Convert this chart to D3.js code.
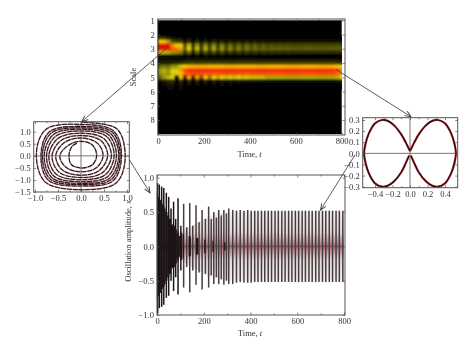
<!DOCTYPE html>
<html>
<head>
<meta charset="utf-8">
<style>
  html, body { margin: 0; background: #fff; }
  svg { display: block; filter: blur(0.35px); }
  text { font-family: "Liberation Serif", serif; fill: #333; }
</style>
<script src="https://cdn.jsdelivr.net/npm/d3@7/dist/d3.min.js"></script>
</head>
<body>
<script>
// Scalogram, values: one profile per band, one amplitude per time column
const heatScales = [1, 1.25, 1.5, 1.75, 2, 2.25, 2.5, 2.75, 3, 3.25, 3.5, 3.75, 4, 4.25, 4.5, 4.75, 5, 5.25, 5.5, 5.75, 6, 6.25, 6.5, 6.75, 7, 7.25, 7.5, 7.75, 8, 8.25, 8.5, 8.75];
const heatTimes = [0, 18, 36, 54, 72, 90, 108, 126, 144, 162, 180, 198, 216, 234, 252, 270, 288, 306, 324, 342, 360, 378, 396, 414, 432, 450, 468, 486, 504, 522, 540, 558, 576, 594, 612, 630, 648, 666, 684, 702, 720, 738, 756, 774, 792];

const upperProfile = [0, 0, 0, 0, 0, 0.05, 0.3, 0.85, 1, 0.55, 0.05, 0.03, 0, 0, 0, 0, 0, 0, 0, 0, 0, 0, 0, 0, 0, 0, 0, 0, 0, 0, 0, 0];
const upperAmp = [1, 1, 0.95, 0.85, 0.8, 0.75, 0.32, 0.62, 0.22, 0.56, 0.22, 0.52, 0.24, 0.5, 0.25, 0.46, 0.26, 0.43, 0.27, 0.41, 0.28, 0.39, 0.29, 0.37, 0.3, 0.35, 0.3, 0.33, 0.31, 0.32, 0.31, 0.32, 0.31, 0.31, 0.31, 0.31, 0.31, 0.31, 0.31, 0.31, 0.31, 0.31, 0.31, 0.31, 0.3];

const onsetProfile = [0, 0, 0, 0, 0, 0.3, 0.6, 1, 0.4, 0, 0, 0, 0, 0, 0, 0, 0, 0, 0, 0, 0, 0, 0, 0, 0, 0, 0, 0, 0, 0, 0, 0];
const onsetAmp = [0.6, 0.6, 0.35, 0.05, 0, 0, 0, 0, 0, 0, 0, 0, 0, 0, 0, 0, 0, 0, 0, 0, 0, 0, 0, 0, 0, 0, 0, 0, 0, 0, 0, 0, 0, 0, 0, 0, 0, 0, 0, 0, 0, 0, 0, 0, 0];

const lowerProfile = [0, 0, 0, 0, 0, 0, 0, 0, 0, 0, 0, 0.05, 0.25, 0.72, 0.95, 0.9, 0.5, 0.06, 0, 0, 0, 0, 0, 0, 0, 0, 0, 0, 0, 0, 0, 0];
const lowerAmp = [0.5, 0.55, 0.5, 0.65, 0.65, 0.8, 0.95, 1, 1, 1, 1, 1, 1, 1, 1, 1, 1, 1, 1, 1, 1, 1, 1, 1, 1, 1, 1, 1, 1, 1, 1, 1, 1, 1, 1, 1, 1, 1, 1, 1, 1, 1, 1, 0.95, 0.85];

const beadProfile = [0, 0, 0, 0, 0, 0, 0, 0, 0, 0, 0, 0, 0, 0, 0, 0, 1, 0.5, 0.25, 0.1, 0, 0, 0, 0, 0, 0, 0, 0, 0, 0, 0, 0];
const beadAmp = [0.1, 0.2, 0.3, 0.3, -0.4, 0.3, -0.4, 0.25, -0.35, 0.25, -0.2, 0.2, -0.1, 0.2, 0, 0.15, 0.05, 0.12, 0.05, 0.1, 0.05, 0.08, 0.05, 0.05, 0.05, 0.05, 0, 0, 0, 0, 0, 0, 0, 0, 0, 0, 0, 0, 0, 0, 0, 0, 0, 0.05, 0.2];

// Oscillation amplitude, tallest excursions
const spikeTimes = [3, 10, 20, 29, 40, 50, 60, 71, 80, 90, 102, 114, 127, 140, 153, 167, 180, 193, 207, 221, 232, 243, 254, 264, 275, 286, 297, 307, 324, 340, 356, 372, 388, 403, 418, 432, 447, 461, 476, 490, 505, 519, 534, 548, 563, 577, 592, 606, 621, 635, 650, 664, 679, 693, 708, 722, 737, 751, 766, 780, 795];
const spikeTop = [0.92, 0.9, 0.87, 0.85, 0.78, 0.72, 0.55, 0.65, 0.4, 0.7, 0.3, 0.62, 0.28, 0.63, 0.3, 0.6, 0.35, 0.53, 0.4, 0.58, 0.4, 0.5, 0.42, 0.53, 0.45, 0.53, 0.48, 0.55, 0.53, 0.52, 0.53, 0.52, 0.53, 0.52, 0.52, 0.52, 0.52, 0.52, 0.52, 0.52, 0.52, 0.52, 0.52, 0.52, 0.52, 0.52, 0.52, 0.52, 0.52, 0.52, 0.52, 0.52, 0.52, 0.52, 0.52, 0.52, 0.52, 0.52, 0.52, 0.52, 0.52];
const spikeBottom = [-0.98, -0.9, -0.88, -0.85, -0.75, -0.72, -0.5, -0.65, -0.45, -0.7, -0.35, -0.6, -0.3, -0.67, -0.35, -0.56, -0.38, -0.63, -0.4, -0.6, -0.42, -0.55, -0.45, -0.55, -0.48, -0.56, -0.5, -0.55, -0.55, -0.53, -0.52, -0.53, -0.53, -0.53, -0.52, -0.52, -0.52, -0.52, -0.52, -0.52, -0.52, -0.52, -0.52, -0.52, -0.52, -0.52, -0.52, -0.52, -0.52, -0.52, -0.52, -0.52, -0.52, -0.52, -0.52, -0.52, -0.52, -0.52, -0.52, -0.52, -0.52];

// Dense start of the same signal, then the dark beads on the zero line
const fastTimes = [2, 6, 10, 14, 18, 22, 26, 30, 34, 38, 42, 46, 50, 54, 58, 62, 66, 70, 74, 78, 82, 86, 90, 94, 98, 104, 112, 138, 142, 170, 174, 205, 240, 290];
const fastAmp = [0.78, 0.72, 0.7, 0.68, 0.65, 0.62, 0.6, 0.58, 0.55, 0.5, 0.5, 0.45, 0.45, 0.4, 0.4, 0.3, 0.32, 0.25, 0.3, 0.22, 0.25, 0.18, 0.22, 0.15, 0.15, 0.2, 0.18, 0.15, 0.14, 0.12, 0.12, 0.1, 0.08, 0.06];

const bandTimes = [0, 100, 150, 200, 250, 300, 400, 800];
const bandOuter = [0, 0.2, 0.3, 0.4, 0.48, 0.5, 0.51, 0.51];

// Phase portrait at the start of the record
const spiralX = [-0.09, -0.2, -0.26, -0.21, 0, 0.24, 0.34, 0.25,
  0, -0.27, -0.46, -0.33, 0, 0.33, 0.48, 0.36,
  0, -0.37, -0.55, -0.41, 0, 0.4, 0.58, 0.44,
  0, -0.44, -0.63, -0.48, 0, 0.47, 0.66, 0.5,
  0, -0.5, -0.7, -0.54, 0, 0.53, 0.72, 0.56,
  0, -0.56, -0.75, -0.59, 0, 0.58, 0.77, 0.6,
  0, -0.6, -0.8, -0.63, 0, 0.62, 0.82, 0.64,
  0, -0.65, -0.84, -0.67, 0, 0.66, 0.85, 0.68,
  0, -0.69, -0.87, -0.71, 0, 0.7, 0.88, 0.71,
  0, -0.76, -0.97, -0.78, 0, 0.76, 0.96, 0.78, 0];
const spiralY = [0.52, 0.38, 0.03, -0.36, -0.5, -0.38, 0, 0.44,
  0.6, 0.44, 0, -0.47, -0.66, -0.5, 0, 0.52,
  0.74, 0.54, 0, -0.58, -0.8, -0.6, 0, 0.62,
  0.84, 0.63, 0, -0.67, -0.9, -0.69, 0, 0.71,
  0.94, 0.72, 0, -0.76, -0.99, -0.78, 0, 0.8,
  1.03, 0.8, 0, -0.84, -1.07, -0.86, 0, 0.87,
  1.1, 0.88, 0, -0.91, -1.14, -0.93, 0, 0.93,
  1.16, 0.94, 0, -0.96, -1.19, -0.98, 0, 0.98,
  1.22, 0.99, 0, -1.01, -1.25, -1.03, 0, 1.03,
  1.3, 1.1, 0.1, -1.08, -1.4, -1.13, -0.1, 1.12, 1.38];

// Phase portrait at the end of the record
const butterflyX = [0, 0.05, 0.1, 0.18, 0.25, 0.32, 0.4, 0.47, 0.51, 0.525, 0.51, 0.47, 0.4, 0.32, 0.25, 0.18, 0.1, 0.05, 0.01];
const butterflyY = [0.02, 0.1, 0.17, 0.25, 0.29, 0.3, 0.27, 0.18, 0.08, 0, -0.08, -0.18, -0.27, -0.3, -0.29, -0.25, -0.17, -0.09, -0.02];

const timeTicks = [0, 200, 400, 600, 800];
const timeMinor = [100, 300, 500, 700];
const scaleTicks = [1, 2, 3, 4, 5, 6, 7, 8];
const ampTicks = [-1, -0.5, 0, 0.5, 1];
const leftXTicks = [-1, -0.5, 0, 0.5, 1];
const leftYTicks = [-1.5, -1, -0.5, 0, 0.5, 1];
const rightXTicks = [-0.4, -0.2, 0, 0.2, 0.4];
const rightYTicks = [-0.3, -0.2, -0.1, 0, 0.1, 0.2, 0.3];

const width = 474, height = 356;

const svg = d3.select("body").append("svg")
    .attr("width", width)
    .attr("height", height);

const defs = svg.append("defs");
defs.append("filter").attr("id", "soft")
    .attr("x", "-5%").attr("y", "-5%").attr("width", "110%").attr("height", "110%")
    .append("feGaussianBlur").attr("stdDeviation", 1.2);
defs.append("clipPath").attr("id", "heatClip")
    .append("rect").attr("x", 158).attr("y", 20).attr("width", 184).attr("height", 114);
defs.append("marker").attr("id", "head")
    .attr("markerUnits", "userSpaceOnUse")
    .attr("viewBox", "-8 -4 9 8")
    .attr("markerWidth", 9).attr("markerHeight", 8)
    .attr("orient", "auto")
    .append("path")
    .attr("d", "M-6,-2.6L0,0L-6,2.6")
    .attr("fill", "none")
    .attr("stroke", "#333")
    .attr("stroke-width", 0.9);

// Draws the frame and inward ticks of a panel, with labels on the left and bottom
function panel(box, x, y, xTicks, yTicks, xFmt, yFmt, xMinor) {
    const g = svg.append("g");
    g.append("rect")
        .attr("x", box.left).attr("y", box.top)
        .attr("width", box.right - box.left).attr("height", box.bottom - box.top)
        .attr("fill", "none").attr("stroke", "#555").attr("stroke-width", 1);

    g.append("g").attr("transform", `translate(0,${box.bottom})`)
        .call(d3.axisBottom(x).tickValues(xTicks).tickFormat(xFmt).tickSize(-2.5).tickPadding(3));
    g.append("g").attr("transform", `translate(${box.left},0)`)
        .call(d3.axisLeft(y).tickValues(yTicks).tickFormat(yFmt).tickSize(-2.5).tickPadding(3));
    g.append("g").attr("transform", `translate(0,${box.top})`)
        .call(d3.axisTop(x).tickValues(xTicks).tickFormat("").tickSize(-2.5));
    g.append("g").attr("transform", `translate(${box.right},0)`)
        .call(d3.axisRight(y).tickValues(yTicks).tickFormat("").tickSize(-2.5));
    g.append("g").attr("transform", `translate(0,${box.bottom})`)
        .call(d3.axisBottom(x).tickValues(xMinor).tickFormat("").tickSize(-1.5));
    g.append("g").attr("transform", `translate(0,${box.top})`)
        .call(d3.axisTop(x).tickValues(xMinor).tickFormat("").tickSize(-1.5));

    g.selectAll(".domain").remove();
    g.selectAll(".tick line").attr("stroke", "#555").attr("stroke-width", 0.7);
    g.selectAll("text").style("font-family", '"Liberation Serif", serif').style("font-size", "8.5px").attr("fill", "#333");
}

function axisTitle(x, y, rotate, parts) {
    const t = svg.append("text")
        .attr("text-anchor", "middle")
        .attr("font-size", 8.5)
        .attr("transform", `translate(${x},${y}) rotate(${rotate})`);
    t.append("tspan").text(parts[0]);
    t.append("tspan").attr("font-style", "italic").text(parts[1]);
}

const f1 = d3.format(".1f");

// Scalogram
const heatX = d3.scaleLinear().domain([0, 800]).range([158, 341.7]);
const heatY = d3.scaleLinear().domain([1, 9]).range([20.3, 134.3]);
const heatColor = d3.scaleLinear()
    .domain([0, 0.2, 0.4, 0.6, 0.7, 0.8, 0.9, 1])
    .range(["#000000", "#333300", "#7c7c0e", "#e0d810", "#ffc800", "#ff7a00", "#ff5000", "#e81010"])
    .clamp(true);

const heatG = svg.append("g").attr("clip-path", "url(#heatClip)");
heatG.append("rect")
    .attr("x", heatX(0)).attr("y", heatY(1))
    .attr("width", heatX(800) - heatX(0)).attr("height", heatY(9) - heatY(1))
    .attr("fill", "#000");
const heatCells = heatG.append("g").attr("filter", "url(#soft)");
heatScales.forEach((s, r) => {
    heatTimes.forEach((t, c) => {
        const v = upperProfile[r] * upperAmp[c] + onsetProfile[r] * onsetAmp[c]
            + lowerProfile[r] * lowerAmp[c] + beadProfile[r] * beadAmp[c];
        if (v <= 0) return;
        heatCells.append("rect")
            .attr("x", heatX(t))
            .attr("y", heatY(s - 0.125))
            .attr("width", heatX(18) - heatX(0) + 0.3)
            .attr("height", heatY(1.25) - heatY(1) + 0.3)
            .attr("fill", heatColor(v));
    });
});
panel({ left: 157.7, right: 345, top: 19, bottom: 135 }, heatX, heatY, timeTicks, scaleTicks,
    d3.format("d"), d3.format("d"), timeMinor);
axisTitle(249.5, 157, 0, ["Time, ", "t"]);
axisTitle(136, 77, -90, ["Scale", ""]);

// Oscillation amplitude
const ampX = d3.scaleLinear().domain([0, 800]).range([157, 344]);
const ampY = d3.scaleLinear().domain([-1, 1]).range([315, 177.7]);

const bandFill = defs.append("linearGradient").attr("id", "bandFill")
    .attr("gradientUnits", "userSpaceOnUse")
    .attr("x1", 0).attr("x2", 0)
    .attr("y1", ampY(0.52)).attr("y2", ampY(-0.52));
[[0, "#f4f0f0"], [0.3, "#e6dadb"], [0.44, "#bc959b"], [0.5, "#9c6870"], [0.56, "#bc959b"], [0.7, "#e6dadb"], [1, "#f4f0f0"]]
    .forEach(s => bandFill.append("stop").attr("offset", s[0]).attr("stop-color", s[1]));

const ampG = svg.append("g");
ampG.append("path")
    .attr("d", d3.area()
        .x(d => ampX(d))
        .y0((d, i) => ampY(-bandOuter[i]))
        .y1((d, i) => ampY(bandOuter[i]))(bandTimes))
    .attr("fill", "url(#bandFill)");
ampG.append("line")
    .attr("x1", ampX(0)).attr("x2", ampX(800))
    .attr("y1", ampY(0)).attr("y2", ampY(0))
    .attr("stroke", "#7a3f49").attr("stroke-width", 0.7);
ampG.selectAll(".spike").data(spikeTimes).join("line")
    .attr("class", "spike")
    .attr("x1", d => ampX(d)).attr("x2", d => ampX(d))
    .attr("y1", (d, i) => ampY(spikeTop[i])).attr("y2", (d, i) => ampY(spikeBottom[i]))
    .attr("stroke", d => d < 110 ? "#1c1416" : "#453d3f")
    .attr("stroke-width", 1.5);
ampG.selectAll(".fast").data(fastTimes).join("line")
    .attr("class", "fast")
    .attr("x1", d => ampX(d)).attr("x2", d => ampX(d))
    .attr("y1", (d, i) => ampY(fastAmp[i])).attr("y2", (d, i) => ampY(-fastAmp[i]))
    .attr("stroke", "#1c1416").attr("stroke-width", 1.3);
panel({ left: 157, right: 345, top: 175, bottom: 315 }, ampX, ampY, timeTicks, ampTicks,
    d3.format("d"), f1, timeMinor);
axisTitle(250, 336, 0, ["Time, ", "t"]);
axisTitle(131, 241, -90, ["Oscillation amplitude, ", "x"]);

// Left phase portrait
const leftX = d3.scaleLinear().domain([-1, 1]).range([35, 127]);
const leftY = d3.scaleLinear().domain([-1, 1]).range([180, 131.7]);
const spiralLine = d3.line()
    .x(d => leftX(d))
    .y((d, i) => leftY(spiralY[i]))
    .curve(d3.curveCatmullRom.alpha(0.5));
svg.append("line").attr("x1", leftX(0)).attr("x2", leftX(0)).attr("y1", 122).attr("y2", 192).attr("stroke", "#777").attr("stroke-width", 1);
svg.append("line").attr("x1", 34).attr("x2", 129).attr("y1", leftY(0)).attr("y2", leftY(0)).attr("stroke", "#777").attr("stroke-width", 1);
svg.append("path").attr("d", spiralLine(spiralX))
    .attr("fill", "none").attr("stroke", "#b98a92").attr("stroke-width", 1.5);
svg.append("path").attr("d", spiralLine(spiralX))
    .attr("fill", "none").attr("stroke", "#241a1c").attr("stroke-width", 1.05)
    .attr("stroke-dasharray", "5 1");
panel({ left: 33.7, right: 129.3, top: 121.7, bottom: 192 }, leftX, leftY, leftXTicks, leftYTicks,
    f1, f1, [-0.75, -0.25, 0.25, 0.75]);

// Right phase portrait
const rightX = d3.scaleLinear().domain([-0.4, 0.4]).range([375, 445]);
const rightY = d3.scaleLinear().domain([-0.3, 0.3]).range([186.7, 120]);
const lobe = d3.line()
    .x(d => d[0])
    .y(d => d[1])
    .curve(d3.curveCatmullRom.alpha(0.5));
svg.append("line").attr("x1", rightX(0)).attr("x2", rightX(0)).attr("y1", 118).attr("y2", 188).attr("stroke", "#777").attr("stroke-width", 1);
svg.append("line").attr("x1", 363).attr("x2", 458).attr("y1", rightY(0)).attr("y2", rightY(0)).attr("stroke", "#777").attr("stroke-width", 1);
[1, -1].forEach(side => {
    const pts = butterflyX.map((d, i) => [rightX(side * d), rightY(butterflyY[i])]);
    svg.append("path").attr("d", lobe(pts))
        .attr("fill", "none").attr("stroke", "#b03038").attr("stroke-width", 2.2);
    svg.append("path").attr("d", lobe(pts))
        .attr("fill", "none").attr("stroke", "#2a0c0e").attr("stroke-width", 1.2);
});
panel({ left: 362.7, right: 457.7, top: 117.7, bottom: 187.7 }, rightX, rightY, rightXTicks, rightYTicks,
    f1, f1, [-0.3, -0.1, 0.1, 0.3]);

// Arrows joining the panels
const arrows = [
    [heatX(35), heatY(3), leftX(0.02), leftY(1.42)],
    [leftX(1.05), leftY(-0.16), ampX(-30), ampY(0.78)],
    [heatX(775), heatY(4.45), rightX(0.01), rightY(0.33)],
    [rightX(-0.63), rightY(-0.015), ampX(700), ampY(0.53)]
];
svg.selectAll(".arrow").data(arrows).join("line")
    .attr("class", "arrow")
    .attr("x1", d => d[0]).attr("y1", d => d[1])
    .attr("x2", d => d[2]).attr("y2", d => d[3])
    .attr("stroke", "#333").attr("stroke-width", 0.8)
    .attr("marker-end", "url(#head)");
</script>
</body>
</html>
